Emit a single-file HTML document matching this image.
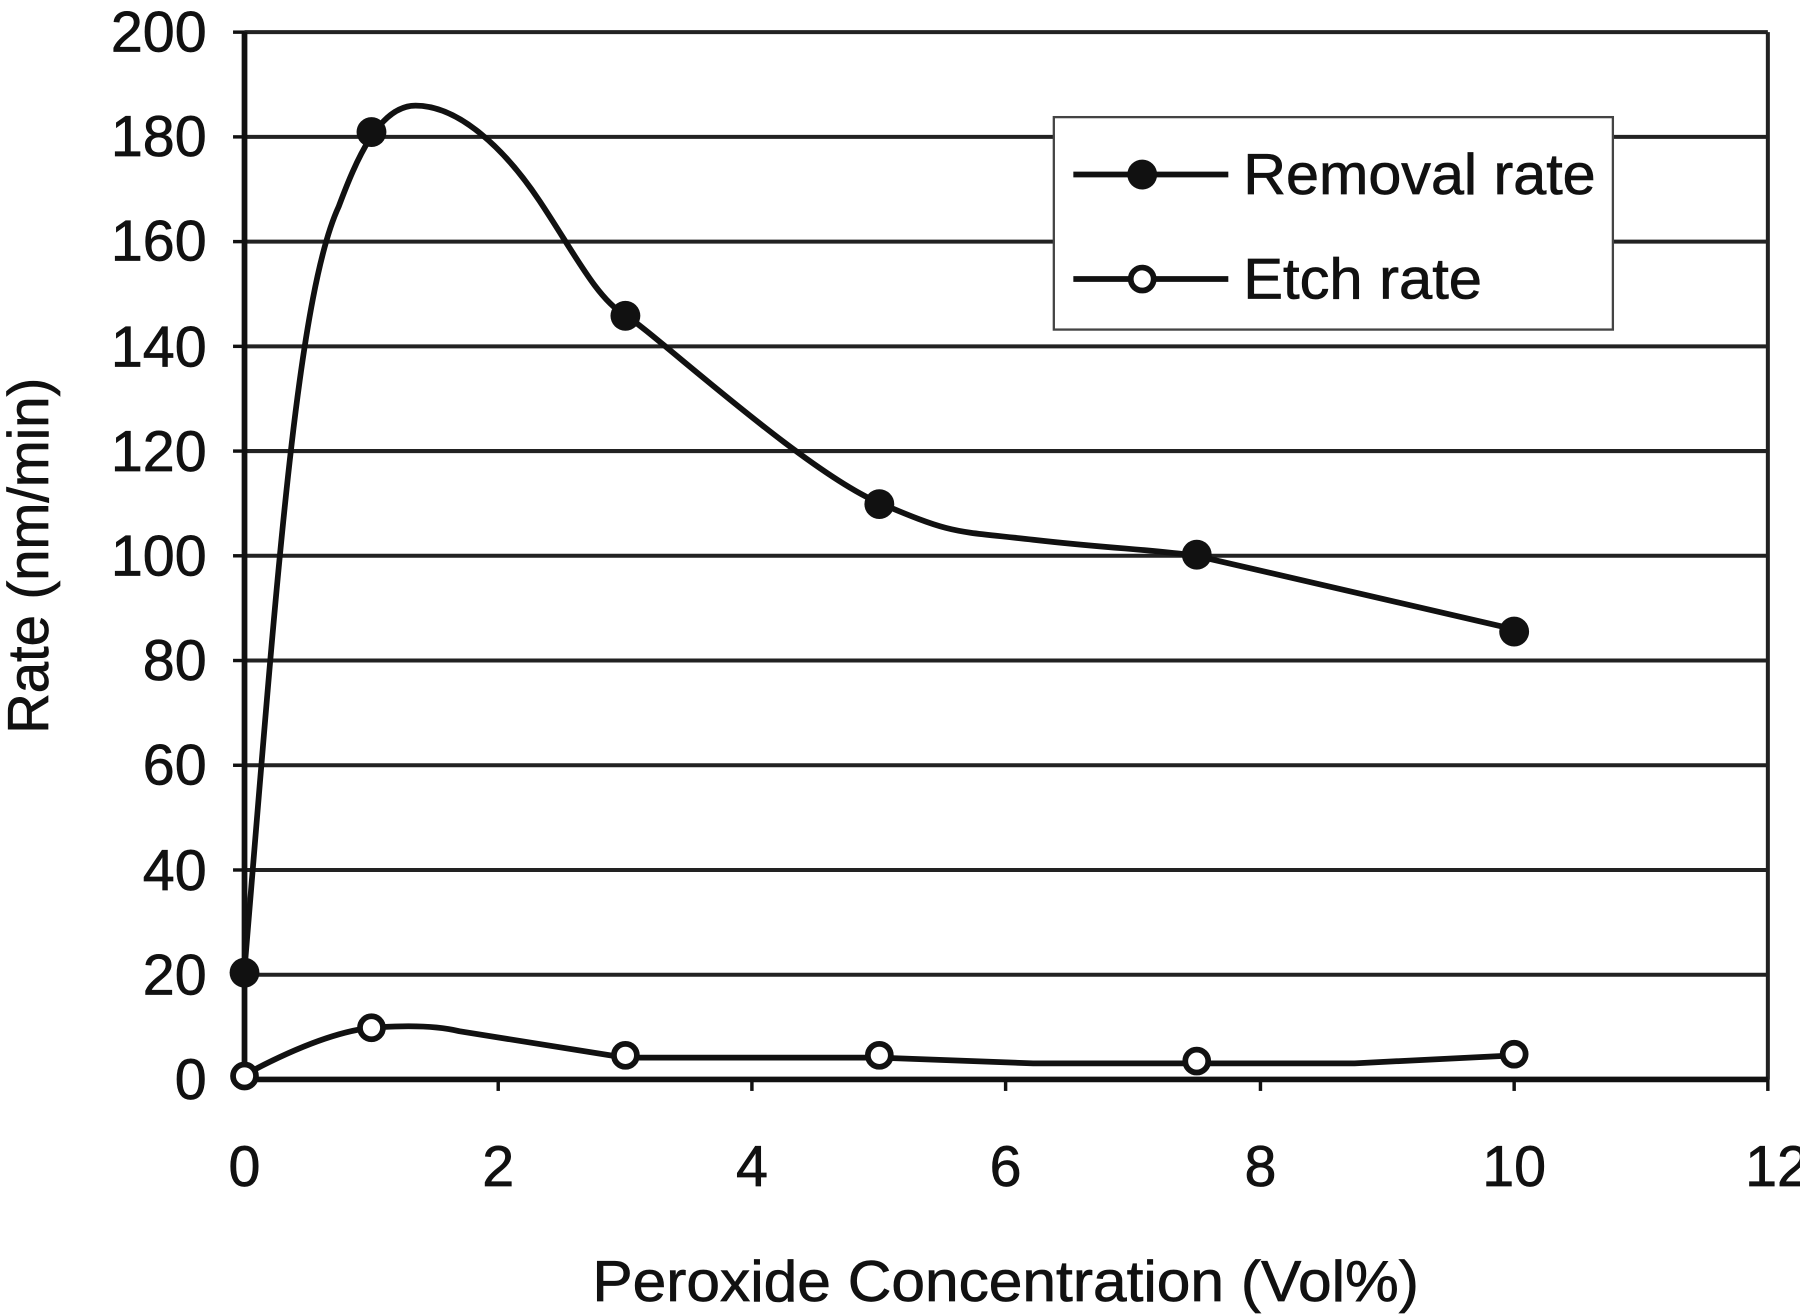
<!DOCTYPE html>
<html><head><style>html,body{margin:0;padding:0;background:#fff}svg{display:block}</style></head>
<body>
<svg width="1800" height="1316" viewBox="0 0 1568 1146" preserveAspectRatio="none" xmlns="http://www.w3.org/2000/svg" font-family="Liberation Sans, sans-serif" fill="#111">
<rect x="0" y="0" width="1568" height="1146" fill="#fff"/>
<g stroke="#222" stroke-width="3.5">
<line x1="213" y1="28" x2="1540" y2="28"/>
<line x1="213" y1="119.2" x2="1540" y2="119.2"/>
<line x1="213" y1="210.4" x2="1540" y2="210.4"/>
<line x1="213" y1="301.6" x2="1540" y2="301.6"/>
<line x1="213" y1="392.8" x2="1540" y2="392.8"/>
<line x1="213" y1="484" x2="1540" y2="484"/>
<line x1="213" y1="575.2" x2="1540" y2="575.2"/>
<line x1="213" y1="666.4" x2="1540" y2="666.4"/>
<line x1="213" y1="757.6" x2="1540" y2="757.6"/>
<line x1="213" y1="848.8" x2="1540" y2="848.8"/>
<line x1="1540" y1="28" x2="1540" y2="940"/>
</g>
<g stroke="#111" stroke-width="5">
<line x1="213" y1="28" x2="213" y2="940"/>
<line x1="213" y1="940" x2="1540" y2="940"/>
</g>
<g stroke="#111" stroke-width="3">
<line x1="203" y1="28" x2="213" y2="28"/><line x1="203" y1="119.2" x2="213" y2="119.2"/><line x1="203" y1="210.4" x2="213" y2="210.4"/><line x1="203" y1="301.6" x2="213" y2="301.6"/><line x1="203" y1="392.8" x2="213" y2="392.8"/><line x1="203" y1="484" x2="213" y2="484"/><line x1="203" y1="575.2" x2="213" y2="575.2"/><line x1="203" y1="666.4" x2="213" y2="666.4"/><line x1="203" y1="757.6" x2="213" y2="757.6"/><line x1="203" y1="848.8" x2="213" y2="848.8"/><line x1="203" y1="940" x2="213" y2="940"/>
<line x1="434" y1="940" x2="434" y2="950"/><line x1="655" y1="940" x2="655" y2="950"/><line x1="876" y1="940" x2="876" y2="950"/><line x1="1098" y1="940" x2="1098" y2="950"/><line x1="1319" y1="940" x2="1319" y2="950"/><line x1="1540" y1="940" x2="1540" y2="950"/>
</g>
<g font-size="50" text-anchor="end" stroke="#111" stroke-width="0.6">
<text x="180" y="45">200</text><text x="180" y="136">180</text><text x="180" y="227">160</text><text x="180" y="319">140</text><text x="180" y="410">120</text><text x="180" y="501">100</text><text x="180" y="592">80</text><text x="180" y="683">60</text><text x="180" y="775">40</text><text x="180" y="866">20</text><text x="180" y="957">0</text>
</g>
<g font-size="50" text-anchor="middle" stroke="#111" stroke-width="0.6">
<text x="213" y="1033">0</text><text x="434" y="1033">2</text><text x="655" y="1033">4</text><text x="876" y="1033">6</text><text x="1098" y="1033">8</text><text x="1319" y="1033">10</text><text x="1548" y="1033">12</text>
<text x="876" y="1133" textLength="720" lengthAdjust="spacingAndGlyphs">Peroxide Concentration (Vol%)</text>
<text transform="translate(42,484) rotate(-90)" textLength="310" lengthAdjust="spacingAndGlyphs">Rate (nm/min)</text>
</g>
<path d="M213,844 C240,520 258,260 295,180 C310,140 330,92 362,92 C400,92 440,130 470,175 C500,220 520,260 544,274 S700,410 766,438 S830,462 900,470 S1000,478 1042,484 L1319,548" fill="none" stroke="#111" stroke-width="5"/>
<path d="M213,936 Q280,900 323,895 C350,893 380,893 400,898 L544,921 L766,921 L900,926 L1180,926 L1319,919" fill="none" stroke="#111" stroke-width="5"/>
<g fill="#111">
<circle cx="213" cy="847" r="13"/><circle cx="323.6" cy="115" r="13"/><circle cx="544.8" cy="275" r="13"/><circle cx="766" cy="439" r="13"/><circle cx="1042.5" cy="483" r="13"/><circle cx="1319" cy="550" r="13"/>
</g>
<g fill="#fff" stroke="#111" stroke-width="5">
<circle cx="213" cy="937" r="10"/><circle cx="323.6" cy="895" r="10"/><circle cx="544.8" cy="919" r="10"/><circle cx="766" cy="919" r="10"/><circle cx="1042.5" cy="924" r="10"/><circle cx="1319" cy="918" r="10"/>
</g>
<rect x="918" y="102" width="487" height="185" fill="#fff" stroke="#444" stroke-width="2"/>
<line x1="935" y1="152" x2="1070" y2="152" stroke="#111" stroke-width="5"/>
<circle cx="995" cy="152" r="13" fill="#111"/>
<line x1="935" y1="243" x2="1070" y2="243" stroke="#111" stroke-width="5"/>
<circle cx="995" cy="243" r="10" fill="#fff" stroke="#111" stroke-width="5"/>
<g stroke="#111" stroke-width="0.6" font-size="50">
<text x="1083" y="169" textLength="307" lengthAdjust="spacingAndGlyphs">Removal rate</text>
<text x="1083" y="260" textLength="208" lengthAdjust="spacingAndGlyphs">Etch rate</text>
</g>
</svg>
</body></html>
